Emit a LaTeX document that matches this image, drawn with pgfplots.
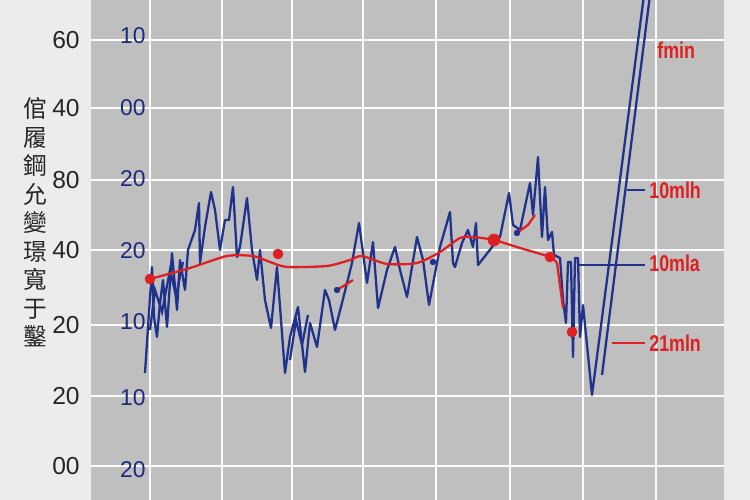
\documentclass[border=0pt]{standalone}
\usepackage{fontspec}
\setmainfont{Liberation Sans}
\newfontfamily\cjk{Noto Sans CJK TC}
\newfontfamily\lbl[FakeStretch=0.78]{Liberation Sans}
\usepackage{pgfplots}
\pgfplotsset{compat=1.18}
\definecolor{outerbg}{RGB}{236,236,236}
\definecolor{plotbg}{RGB}{191,191,191}
\definecolor{navy}{RGB}{32,50,140}
\definecolor{tickblue}{RGB}{30,40,125}
\definecolor{redline}{RGB}{222,32,32}
\begin{document}
\begin{tikzpicture}[
    inlbl/.style={anchor=east, text=tickblue, font=\fontsize{13}{15}\selectfont, inner sep=0pt},
    redlbl/.style={anchor=west, text=redline, font=\lbl\bfseries\fontsize{13}{15}\selectfont, inner sep=0pt},
]
% page background (1px = 0.02cm)
\useasboundingbox (-1.82cm,0) rectangle (13.18cm,10cm);
\fill[outerbg] (-1.82cm,0) rectangle (13.18cm,10cm);
\begin{axis}[
    at={(0,0)}, anchor=south west,
    width=12.66cm, height=10cm, scale only axis,
    xmin=91, xmax=724, ymin=0, ymax=500, y dir=reverse,
    axis background/.style={fill=plotbg},
    axis line style={draw=none},
    major tick length=0pt,
    xtick={150,222,292,363,436,510,583,656},
    xticklabels={},
    ytick={40,108,180,250,325,396,466},
    yticklabels={60,40,80,40,20,20,00},
    yticklabel style={font=\fontsize{14}{16}\selectfont, text=black!85, inner sep=0pt, xshift=-0.22cm},
    grid=major, grid style={white!95!plotbg, line width=0.8pt},
]
% blue inner labels
\node[inlbl] at (axis cs:146,36) {10};
\node[inlbl] at (axis cs:146,108) {00};
\node[inlbl] at (axis cs:146,179) {20};
\node[inlbl] at (axis cs:146,251) {20};
\node[inlbl] at (axis cs:146,322) {10};
\node[inlbl] at (axis cs:146,398) {10};
\node[inlbl] at (axis cs:146,470) {20};
% main blue series
\addplot[navy, line width=1.3pt, line join=round] coordinates {
 (145,373) (152,267) (154,317) (157,337) (160,303) (163,280) (167,327)
 (172,253) (177,310) (180,260) (185,290) (188,250) (195,230) (199,203)
 (200,263) (205,227) (211,192) (215,210) (220,250) (225,220) (229,220)
 (233,187) (237,257) (240,247) (247,198) (252,250) (257,280) (260,250)
 (265,300) (271,328) (277,267) (285,373) (290,337) (298,307) (305,372)
 (310,323) (317,347) (325,290) (329,300) (335,330) (342,303) (352,263)
 (359,223) (367,283) (373,242) (378,308) (387,270) (395,247) (400,270)
 (407,297) (417,237) (423,260) (429,305) (440,247) (450,212) (453,263)
 (455,267) (462,243) (468,230) (473,247) (476,223) (478,265) (500,237)
 (509,193) (513,225) (520,230) (530,183) (533,215) (538,157) (542,237)
 (545,187) (548,240) (552,232) (554,255) (560,258) (563,300) (566,323)
 (568,262) (571,262) (573,357) (575,258) (578,258) (580,337) (583,305)
 (592,395) (644,-5)
};
% extra blue strands
\addplot[navy, line width=1.3pt] coordinates {(150,330) (155,290) (162,312) (170,270) (176,296) (183,262)};
\addplot[navy, line width=1.3pt] coordinates {(290,360) (296,320) (302,345) (308,315)};
\addplot[navy, line width=1.3pt] coordinates {(602,375) (650,-5)};
\addplot[navy, line width=1.3pt] coordinates {(578,265) (645,265)};
\addplot[navy, line width=1.3pt] coordinates {(627,190) (645,190)};
% red trend line
\addplot[redline, line width=1.3pt, smooth, tension=0.4] coordinates {
 (150,279) (190,268) (227,256) (253,256) (270,262) (287,267) (327,266)
 (350,260) (362,256) (387,264) (417,263) (440,252) (460,238) (473,237)
 (494,240) (520,248) (550,257) (557,263)
};
\addplot[redline, line width=1.3pt] coordinates {(557,263) (563,308)};
\addplot[redline, line width=1.3pt] coordinates {(337,290) (353,280)};
\addplot[redline, line width=1.3pt] coordinates {(517,233) (528,225) (535,215)};
\addplot[redline, line width=1.3pt] coordinates {(612,343) (645,343)};
% markers
\addplot[only marks, mark=*, mark size=2.8pt, redline] coordinates {(150,279) (278,254) (550,257) (572,332)};
\addplot[only marks, mark=*, mark size=3.4pt, redline] coordinates {(494,240)};
\addplot[only marks, mark=*, mark size=1.6pt, navy] coordinates {(337,290) (433,262) (517,233)};
% red labels
\node[redlbl] at (axis cs:657,50) {fmin};
\node[redlbl] at (axis cs:649,190) {10mlh};
\node[redlbl] at (axis cs:649,263) {10mla};
\node[redlbl] at (axis cs:649,343) {21mln};
\end{axis}
% vertical CJK label
\node[font=\cjk\fontsize{13.5}{16.2}\selectfont, align=center, text=black!85, inner sep=0pt]
  at (-1.12cm,5.55cm) {倌\\履\\鋼\\允\\變\\璟\\寬\\于\\鑿};
\end{tikzpicture}
\end{document}
